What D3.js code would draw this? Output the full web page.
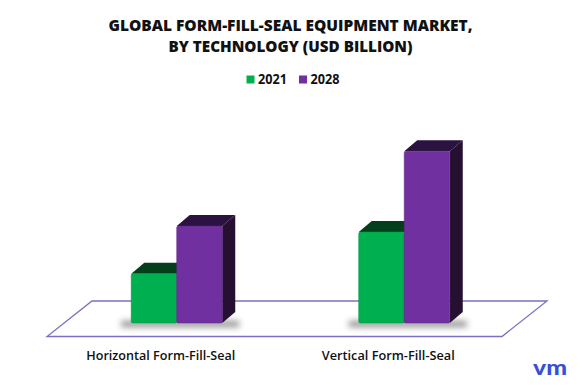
<!DOCTYPE html>
<html>
<head>
<meta charset="utf-8">
<script src="https://cdnjs.cloudflare.com/ajax/libs/d3/7.8.5/d3.min.js"></script>
<style>
  body { margin: 0; background: #fff; }
  svg { display: block; }
</style>
</head>
<body>
<script>
const categories = ['Horizontal Form-Fill-Seal', 'Vertical Form-Fill-Seal']
const years = ['2021', '2028']
const values2021 = [2.9, 5.35]
const values2028 = [5.7, 10.1]
const titleLines = ['GLOBAL FORM-FILL-SEAL EQUIPMENT MARKET,', 'BY TECHNOLOGY (USD BILLION)']

const width = 581, height = 385
const colors = { '2021': '#00b050', '2028': '#7030a0' }
const topColors = { '2021': '#033f1b', '2028': '#2b1240' }
const sideColors = { '2021': '#02361a', '2028': '#261031' }

const svg = d3.select('body').append('svg')
    .attr('width', width)
    .attr('height', height)

const defs = svg.append('defs')
defs.append('filter').attr('id', 'blur')
    .attr('x', '-50%').attr('y', '-200%').attr('width', '200%').attr('height', '500%')
    .append('feGaussianBlur').attr('stdDeviation', 3)

// title
svg.append('g').selectAll('text')
    .data(titleLines)
    .join('text')
    .attr('x', width / 2)
    .attr('y', (d, i) => 30.5 + i * 21.5)
    .attr('text-anchor', 'middle')
    .attr('font-family', 'Open Sans, sans-serif')
    .attr('font-weight', 800)
    .attr('font-size', 16.5)
    .attr('fill', '#111')
    .attr('textLength', (d, i) => i == 0 ? 364 : 244)
    .attr('lengthAdjust', 'spacingAndGlyphs')
    .text(d => d)

// legend
const legend = svg.append('g')
const legendX = [246.5, 299]
years.forEach((y, i) => {
    legend.append('rect')
        .attr('x', legendX[i]).attr('y', 75.5)
        .attr('width', 8).attr('height', 8)
        .attr('fill', colors[y])
    legend.append('text')
        .attr('x', legendX[i] + 11.5).attr('y', 84)
        .attr('font-family', 'Open Sans, sans-serif')
        .attr('font-weight', 700)
        .attr('font-size', 13.5)
        .attr('fill', '#111')
        .attr('textLength', 29)
        .attr('lengthAdjust', 'spacingAndGlyphs')
        .text(y)
})

// floor
const floorFront = 336.5, floorBack = 301, floorDx = 45
const x = d3.scaleBand().domain(categories).range([47, 502])
const sub = d3.scaleBand().domain(years).range([0, 91])
const y = d3.scaleLinear().domain([0, 10]).range([0, 170])

svg.append('path')
    .attr('d', `M${x.range()[0]},${floorFront} L${x.range()[1]},${floorFront} L${x.range()[1] + floorDx},${floorBack} L${x.range()[0] + floorDx},${floorBack} Z`)
    .attr('fill', 'none')
    .attr('stroke', '#7b6fc4')
    .attr('stroke-width', 1.3)

// bars
const base = 323
const shift = 16
const dx = 13, dy = -11
const data = categories.map((c, i) => ({ cat: c, vals: [values2021[i], values2028[i]] }))

const groups = svg.append('g').selectAll('g')
    .data(data)
    .join('g')
    .attr('transform', d => `translate(${x(d.cat) + x.bandwidth() / 2 - 45.5 + shift},0)`)

// soft shadow under each pair
groups.append('rect')
    .attr('x', -10).attr('y', base - 2)
    .attr('width', 118).attr('height', 6)
    .attr('fill', '#555')
    .attr('opacity', 0.65)
    .attr('filter', 'url(#blur)')

groups.each(function (d) {
    const g = d3.select(this)
    years.forEach((yr, j) => {
        const x0 = sub(yr), w = sub.bandwidth()
        const h = y(d.vals[j]), y0 = base - h
        g.append('path')
            .attr('d', `M${x0 + w},${y0} L${x0 + w + dx},${y0 + dy} L${x0 + w + dx},${base + dy} L${x0 + w},${base} Z`)
            .attr('fill', sideColors[yr])
        g.append('path')
            .attr('d', `M${x0},${y0} L${x0 + dx},${y0 + dy} L${x0 + w + dx},${y0 + dy} L${x0 + w},${y0} Z`)
            .attr('fill', topColors[yr])
        g.append('rect')
            .attr('x', x0).attr('y', y0)
            .attr('width', w).attr('height', h)
            .attr('rx', 1.5)
            .attr('fill', colors[yr])
            .attr('stroke', d3.color(colors[yr]).darker(0.4))
            .attr('stroke-width', 0.6)
    })
})

// category labels
svg.append('g').selectAll('text')
    .data(categories)
    .join('text')
    .attr('x', d => x(d) + x.bandwidth() / 2)
    .attr('y', 360)
    .attr('text-anchor', 'middle')
    .attr('font-family', 'Open Sans, sans-serif')
    .attr('font-weight', 600)
    .attr('font-size', 13)
    .attr('fill', '#111')
    .attr('textLength', (d, i) => i == 0 ? 149 : 133)
    .attr('lengthAdjust', 'spacingAndGlyphs')
    .text(d => d)

// logo
svg.append('text')
    .attr('x', 533).attr('y', 375)
    .attr('font-family', 'Lato, sans-serif')
    .attr('font-weight', 900)
    .attr('font-size', 21)
    .attr('fill', '#3650d6')
    .attr('textLength', 34)
    .attr('lengthAdjust', 'spacingAndGlyphs')
    .text('vm')
</script>
</body>
</html>
